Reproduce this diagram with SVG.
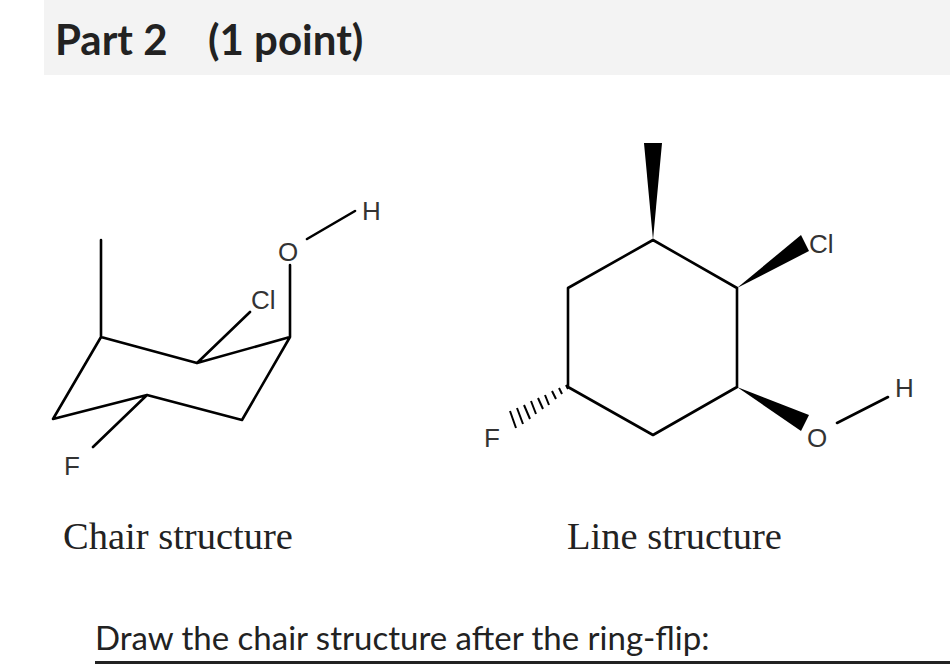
<svg xmlns="http://www.w3.org/2000/svg" width="950" height="668" viewBox="0 0 950 668">
<style>
.b{stroke:#000;stroke-width:2.6;fill:none;stroke-linecap:round;stroke-linejoin:round}
.a{font-family:"Liberation Sans",Arial,sans-serif;font-size:26px;fill:#333}
.cap{font-family:"Liberation Serif","Times New Roman",serif;font-size:38.5px;fill:#222}
.t{font-family:Lato,sans-serif;font-weight:bold;font-size:42px;fill:#222}
</style>
<rect x="44" y="0" width="906" height="75" fill="#f3f3f3"/>
<text class="t" x="55" y="55">Part 2</text>
<text class="t" x="208" y="55">(1 point)</text>
<g id="chair">
<path class="b" d="M101,240 V337 M101,337 L197,363 L290,337 L242,420 L147,395 L53,419 Z M197,363 L250,312 M290,337 V265 M307,239 L355,211 M147,395 L93,447"/>
<text class="a" x="251" y="309">Cl</text>
<text class="a" x="278" y="261">O</text>
<text class="a" x="362" y="220">H</text>
<text class="a" x="64" y="475">F</text>
</g>
<g id="line">
<path class="b" d="M653,240 L737,288 V387 L653,435 L568,387 V288 Z M837,423 L888,397"/>
<polygon points="644,143 662,143 653,240" fill="#000"/>
<polygon points="737,288 801,235 809,251" fill="#000"/>
<polygon points="737,387 809,415 801,431" fill="#000"/>
<g stroke="#000" stroke-width="2">
<path d="M566,385 l2,4 M559,388 l3,6 M552,391 l4,8 M545,395 l4,10 M538,398 l5,11 M531,401 l5,13 M524,405 l6,14 M517,408 l6,16 M510,411 l6,17"/>
</g>
<text class="a" x="809" y="253">Cl</text>
<text class="a" x="807" y="447">O</text>
<text class="a" x="895" y="397">H</text>
<text class="a" x="484" y="447">F</text>
</g>
<text class="cap" x="63" y="549">Chair structure</text>
<text class="cap" x="567" y="549">Line structure</text>
<text x="95" y="650" font-family="Lato,sans-serif" font-size="33" fill="#222">Draw the chair structure after the ring-flip:</text>
<rect x="95" y="661" width="855" height="3" fill="#222"/>
</svg>
